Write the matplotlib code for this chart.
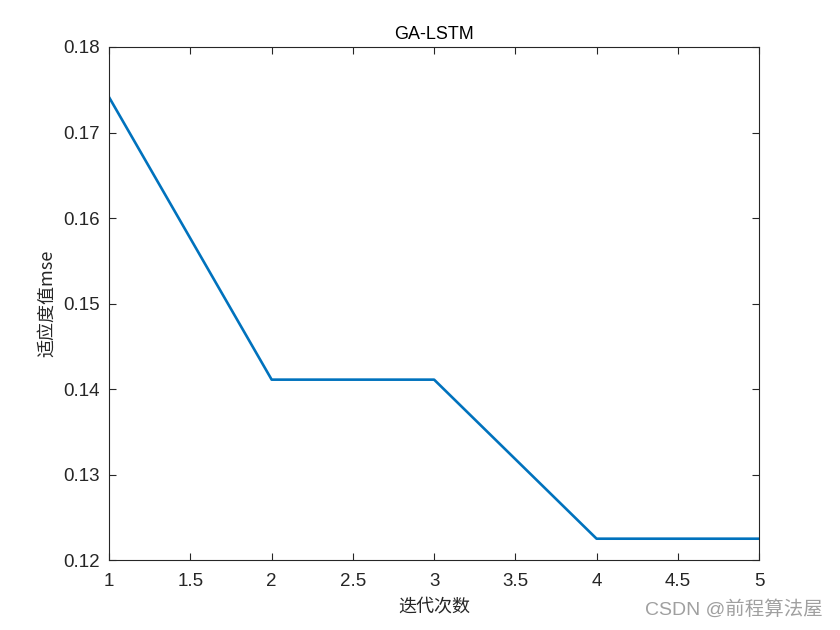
import numpy as np
import matplotlib.pyplot as plt

# dados da curva de aptidão (GA-LSTM)
iteracoes = [1, 2, 3, 4, 5]
fitness_mse = [0.1741, 0.1411, 0.1411, 0.1225, 0.1225]

plt.rcParams['font.family'] = ['Liberation Sans', 'Noto Sans CJK SC', 'DejaVu Sans']

fig = plt.figure(figsize=(8.4, 6.3), dpi=100)
ax = fig.add_axes([0.13, 0.111, 0.7736, 0.8144])

ax.plot(iteracoes, fitness_mse, color='#0072BD', lw=1.9)
ax.set_xlim(1, 5)
ax.set_ylim(0.12, 0.18)
ax.set_xticks(np.arange(1, 5.01, 0.5))
ax.set_xticklabels(['1', '1.5', '2', '2.5', '3', '3.5', '4', '4.5', '5'])
ax.set_yticks(np.arange(0.12, 0.1801, 0.01))
ax.set_yticklabels(['0.12', '0.13', '0.14', '0.15', '0.16', '0.17', '0.18'])
ax.tick_params(direction='in', top=True, right=True, labelsize=13.5, colors='#262626',
               length=5, width=0.8)
ax.tick_params(axis='x', pad=9)
ax.tick_params(axis='y', pad=7)
for s in ax.spines.values():
    s.set_linewidth(0.8)
    s.set_color('#262626')

ax.set_title('GA-LSTM', fontsize=13, color='black')
ax.set_xlabel('迭代次数', fontsize=13, family=['Noto Sans CJK SC', 'DejaVu Sans'],
              color='#262626', labelpad=6)
ax.set_ylabel('适应度值mse', fontsize=13, family=['Noto Sans CJK SC', 'DejaVu Sans'],
              color='#262626', labelpad=5)

fig.text(0.98, 0.018, 'CSDN @前程算法屋', ha='right', va='bottom', fontsize=14,
         color='#a0a0a0', family=['Liberation Sans', 'Noto Sans CJK SC'])

fig.savefig('out.png', dpi=100, facecolor='white')
